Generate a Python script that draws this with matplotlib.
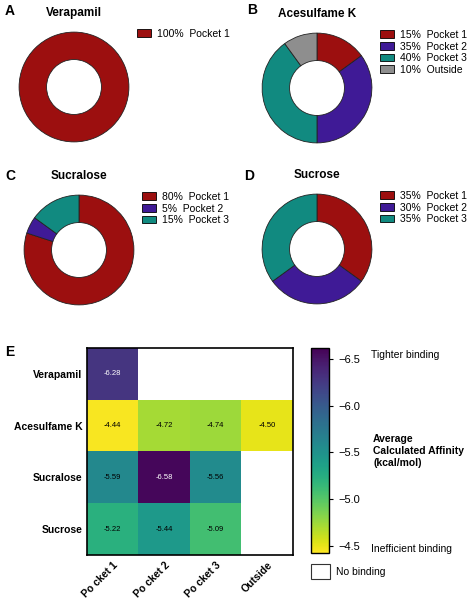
import numpy as np
import matplotlib
matplotlib.use("Agg")
import matplotlib.pyplot as plt
from matplotlib.patches import Patch, Rectangle

plt.rcParams['font.family'] = ['Liberation Sans', 'DejaVu Sans']

pie_titles = ["Verapamil", "Acesulfame K", "Sucralose", "Sucrose"]
pie_letters = ["A", "B", "C", "D"]
pie_values = [[100], [15, 35, 40, 10], [80, 5, 15], [35, 30, 35]]
pie_labels = [["Pocket 1"], ["Pocket 1", "Pocket 2", "Pocket 3", "Outside"],
              ["Pocket 1", "Pocket 2", "Pocket 3"], ["Pocket 1", "Pocket 2", "Pocket 3"]]
colors_all = ["#9c0f0f", "#3f1a96", "#118a80", "#8e8e8e"]

compounds = ["Verapamil", "Acesulfame K", "Sucralose", "Sucrose"]
sites = ["Po cket 1", "Po cket 2", "Po cket 3", "Outside"]
affinity = np.array([
    [-6.28, np.nan, np.nan, np.nan],
    [-4.44, -4.72, -4.74, -4.50],
    [-5.59, -6.58, -5.56, np.nan],
    [-5.22, -5.44, -5.09, np.nan],
])

W, H = 474, 600
fig = plt.figure(figsize=(4.74, 6.0), dpi=100)

def fx(px): return px / W
def fy(py): return 1 - py / H

centers = [(74, 87), (317, 88), (79, 250), (317, 249)]
letter_pos = [(5, 11), (247, 10), (5, 176), (244, 176)]
R = 56
for i in range(4):
    cx, cy = centers[i]
    ax = fig.add_axes([fx(cx - R), fy(cy + R), 2 * R / W, 2 * R / H])
    vals = pie_values[i]
    cols = colors_all[:len(vals)]
    ax.pie(vals, colors=cols, startangle=90, counterclock=False,
           wedgeprops=dict(width=0.5, edgecolor="#222222", linewidth=0.6))
    ax.set_aspect('equal')
    ax.set_xlim(-1.02, 1.02); ax.set_ylim(-1.02, 1.02)
    fig.text(fx(cx), fy(cy - 74), pie_titles[i], fontsize=8.5, fontweight='bold',
             ha='center', va='center')
    lx, ly = letter_pos[i]
    fig.text(fx(lx), fy(ly), pie_letters[i], fontsize=10, fontweight='bold', va='center')
    handles = [Patch(facecolor=c, edgecolor='black', linewidth=0.6) for c in cols]
    labs = [f"{v}%  {l}" for v, l in zip(vals, pie_labels[i])]
    fig.legend(handles, labs, loc='upper left', bbox_to_anchor=(fx(cx + 63), fy(cy - 58)),
               frameon=False, fontsize=7.5, handlelength=1.3, handleheight=0.8,
               labelspacing=0.15, handletextpad=0.6, borderaxespad=0, borderpad=0)

vmin, vmax = -6.62, -4.42
cmap = plt.get_cmap('viridis')
axh = fig.add_axes([fx(87), fy(555), 206 / W, 207 / H])
masked = np.ma.masked_invalid(affinity)
im = axh.imshow(masked, cmap=cmap, vmin=vmin, vmax=vmax, aspect='auto')
for r in range(4):
    for c in range(4):
        v = affinity[r, c]
        if not np.isnan(v):
            axh.text(c, r, f"{v:.2f}", ha='center', va='center', fontsize=5.5,
                     color='white' if v < -6 else 'black')
axh.set_xticks(range(4)); axh.set_xticklabels(sites, rotation=45, ha='right',
                                             rotation_mode='anchor', fontsize=7.5, fontweight='bold')
axh.set_yticks(range(4)); axh.set_yticklabels(compounds, fontsize=7.5, fontweight='bold')
axh.tick_params(length=0)
for s in axh.spines.values():
    s.set_linewidth(1.2)
fig.text(fx(5), fy(352), "E", fontsize=10, fontweight='bold', va='center')

cax = fig.add_axes([fx(311), fy(553), 18 / W, 205 / H])
cb = fig.colorbar(im, cax=cax)
cb.set_ticks([-6.5, -6.0, -5.5, -5.0, -4.5])
cb.ax.tick_params(labelsize=8, length=3)
cb.ax.invert_yaxis()
cb.outline.set_linewidth(1)
fig.text(fx(371), fy(355), "Tighter binding", fontsize=7.5, va='center')
fig.text(fx(371), fy(549), "Inefficient binding", fontsize=7.5, va='center')
fig.text(fx(373), fy(451), "Average\nCalculated Affinity\n(kcal/mol)", fontsize=7.5,
         fontweight='bold', va='center', linespacing=1.2)
fig.patches.append(Rectangle((fx(311), fy(579)), 19 / W, 15 / H, transform=fig.transFigure,
                             facecolor='white', edgecolor='#333333', linewidth=0.8))
fig.text(fx(336), fy(572), "No binding", fontsize=7.5, va='center')

fig.savefig("out.png", dpi=100)
